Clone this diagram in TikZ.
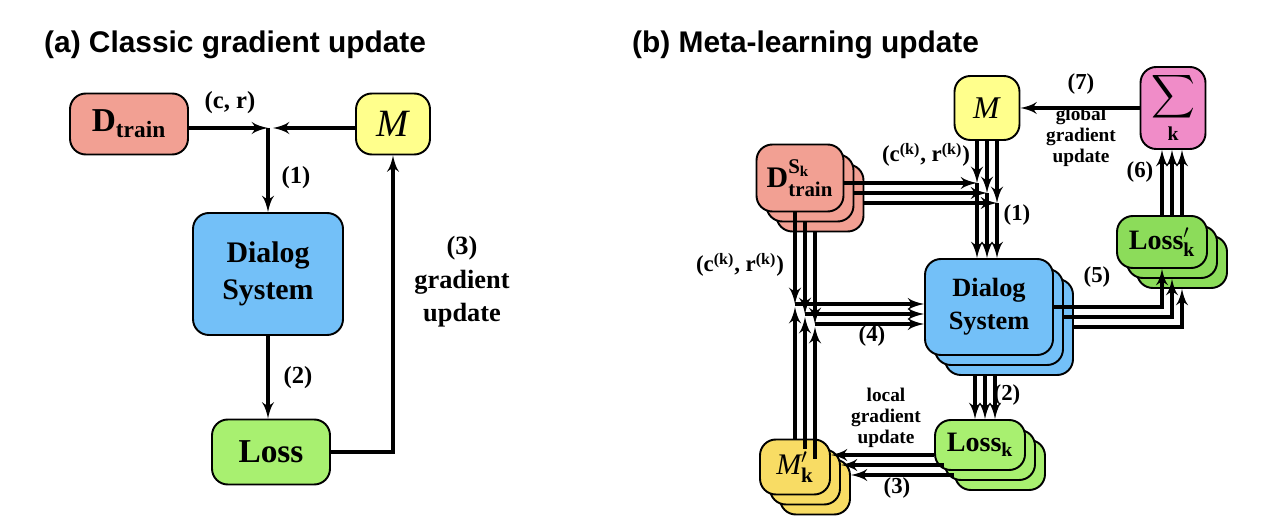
\documentclass[tikz,border=0pt]{standalone}
\usepackage{amsmath}
\usepackage{fontspec}
\setmainfont{Liberation Serif}
\newfontfamily\headfont{Liberation Sans}
\usetikzlibrary{arrows,calc}
\definecolor{salmon}{HTML}{F2A093}
\definecolor{lemon}{HTML}{FFFF8C}
\definecolor{sky}{HTML}{73C0F8}
\definecolor{lime}{HTML}{A8F070}
\definecolor{grass}{HTML}{8CDC5A}
\definecolor{rose}{HTML}{F08CC8}
\definecolor{gold}{HTML}{F8DC64}
\tikzset{
  box/.style={draw=black, line width=1.1pt, rounded corners=9pt, font=\bfseries},
  flow/.style={draw=black, line width=2.2pt, -latex'},
  lbl/.style={font=\bfseries}
}

\begin{document}
\begin{tikzpicture}[x=0.02cm, y=-0.02cm]
  \useasboundingbox (0,0) rectangle (1287,516);

  % titles
  \node[anchor=west, font=\headfont\bfseries\fontsize{17}{20}\selectfont] (ta) at (38,45) {(a) Classic gradient update};
  \node[anchor=west, font=\headfont\bfseries\fontsize{17}{20}\selectfont] (tb) at (626,45) {(b) Meta-learning update};

  % (a) nodes
  \node[box, fill=salmon, minimum width=2.36cm, minimum height=1.22cm, font=\bfseries\fontsize{19}{22}\selectfont] (dtr) at (129,124) {$\textbf{D}_\textbf{train}$};
  \node[box, fill=lemon, minimum width=1.48cm, minimum height=1.22cm, font=\fontsize{22}{24}\selectfont] (ma) at (393,124) {\textit{M}};
  \node[box, fill=sky, minimum width=3.0cm, minimum height=2.44cm, align=center, font=\bfseries\fontsize{17}{21}\selectfont] (dsa) at (268,274) {Dialog\\System};
  \node[box, fill=lime, minimum width=2.36cm, minimum height=1.3cm, font=\bfseries\fontsize{19}{22}\selectfont] (la) at (271,452) {Loss};
  \coordinate (ja) at (268,128);

  \draw[flow] ($(dtr.east)+(0,4)$) -- (ja);
  \draw[flow] ($(ma.west)+(0,4)$) -- ($(ja)+(5,0)$);
  \draw[flow] (ja) -- (dsa.north);
  \draw[flow] (dsa.south) -- (la.north -| dsa.south);
  \draw[flow] (la.east) -| (ma.south);

  \node[lbl, font=\bfseries\fontsize{14}{16}\selectfont] (cr) at (230,103) {(c, r)};
  \node[lbl, font=\bfseries\fontsize{14}{16}\selectfont] (s1a) at (296,178) {(1)};
  \node[lbl, font=\bfseries\fontsize{14}{16}\selectfont] (s2a) at (298,378) {(2)};
  \node[lbl, align=center, font=\bfseries\fontsize{15}{19}\selectfont] (s3a) at (462,282) {(3)\\gradient\\update};

  % (b) nodes
  \node[box, fill=lemon, minimum width=1.3cm, minimum height=1.28cm, font=\fontsize{18}{20}\selectfont] (mb) at (987,108) {\textit{M}};
  \node[box, fill=rose, minimum width=1.3cm, minimum height=1.28cm, font=\fontsize{16}{18}\selectfont] (sg) at (1173,108) {$\displaystyle\sum_{\textbf{k}}$};
  \foreach \k in {2,1,0}{
    \pgfmathsetmacro{\o}{10*\k}
    \node[box, fill=salmon, minimum width=1.74cm, minimum height=1.34cm, font=\bfseries\fontsize{17}{20}\selectfont] (d\k) at (800+\o,178+\o) {\ifnum\k=0 $\textbf{D}^{\textbf{S}_\textbf{k}}_\textbf{train}$\fi};
    \node[box, fill=sky, minimum width=2.56cm, minimum height=1.92cm, align=center, font=\bfseries\fontsize{15}{19}\selectfont] (ds\k) at (989+\o,307+\o) {\ifnum\k=0 Dialog\\System\fi};
    \node[box, fill=grass, minimum width=1.8cm, minimum height=1.04cm, font=\bfseries\fontsize{16}{18}\selectfont] (lp\k) at (1162+\o,242+\o) {\ifnum\k=0 $\textbf{Loss}'_\textbf{k}$\fi};
    \node[box, fill=lime, minimum width=1.8cm, minimum height=1.0cm, font=\bfseries\fontsize{16}{18}\selectfont] (l\k) at (980+\o,445+\o) {\ifnum\k=0 $\textbf{Loss}_\textbf{k}$\fi};
    \node[box, fill=gold, minimum width=1.4cm, minimum height=1.1cm, font=\fontsize{17}{20}\selectfont] (mp\k) at (795+\o,467+\o) {\ifnum\k=0 $\textit{M}'_\textbf{k}$\fi};
  }

  % (b) connectors
  \foreach \k in {0,1,2}{
    \pgfmathsetmacro{\o}{10*\k}
    \coordinate (ju\k) at (977+\o,183+\o);
    \coordinate (jl\k) at (795+\o,304+\o);
    \draw[flow] ($(d\k.east)+(0,5)$) -- (ju\k);
    \draw[flow] (mb.south -| ju\k) -- (ju\k);
    \draw[flow] (ju\k) -- (ju\k |- ds0.north);
    \draw[flow] ($(d\k.south)+(-5,0)$) -- (jl\k);
    \draw[flow] (mp\k.north) -- ($(jl\k)+(0,3)$);
    \draw[flow] (jl\k) -- (jl\k -| ds0.west);
    \draw[flow] (ds\k.east) -| (lp\k.south);
    \draw[flow] (lp\k.south |- lp0.north) -- (lp\k.south |- sg.south);
    \draw[flow] ($(ds2.south)+(-34+\o,0)$) -- ($(l0.north)+(-5+\o,0)$);
    \draw[flow] ($(l\k.west)+(0,10)$) -- ($(mp\k.east)+(0,-12)$);
  }
  \draw[flow] (sg.west) -- (mb.east);

  \node[lbl, font=\bfseries\fontsize{13}{15}\selectfont] (crt) at (926,155) {(c$^{\textbf{(k)}}$, r$^{\textbf{(k)}}$)};
  \node[lbl, font=\bfseries\fontsize{13}{15}\selectfont] (crl) at (740,265) {(c$^{\textbf{(k)}}$, r$^{\textbf{(k)}}$)};
  \node[lbl, font=\bfseries\fontsize{13}{15}\selectfont] (s1b) at (1017,215) {(1)};
  \node[lbl, font=\bfseries\fontsize{13}{15}\selectfont] (s2b) at (1007,395) {(2)};
  \node[lbl, font=\bfseries\fontsize{13}{15}\selectfont] (s3b) at (897,488) {(3)};
  \node[lbl, font=\bfseries\fontsize{13}{15}\selectfont] (s4b) at (872,336) {(4)};
  \node[lbl, font=\bfseries\fontsize{13}{15}\selectfont] (s5b) at (1097,277) {(5)};
  \node[lbl, font=\bfseries\fontsize{13}{15}\selectfont] (s6b) at (1140,172) {(6)};
  \node[lbl, font=\bfseries\fontsize{13}{15}\selectfont] (s7b) at (1081,84) {(7)};
  \node[lbl, align=center, font=\bfseries\fontsize{11}{12}\selectfont] (glob) at (1081,137) {global\\gradient\\update};
  \node[lbl, align=center, font=\bfseries\fontsize{11}{12}\selectfont] (loc) at (886,418) {local\\gradient\\update};
\end{tikzpicture}
\end{document}
